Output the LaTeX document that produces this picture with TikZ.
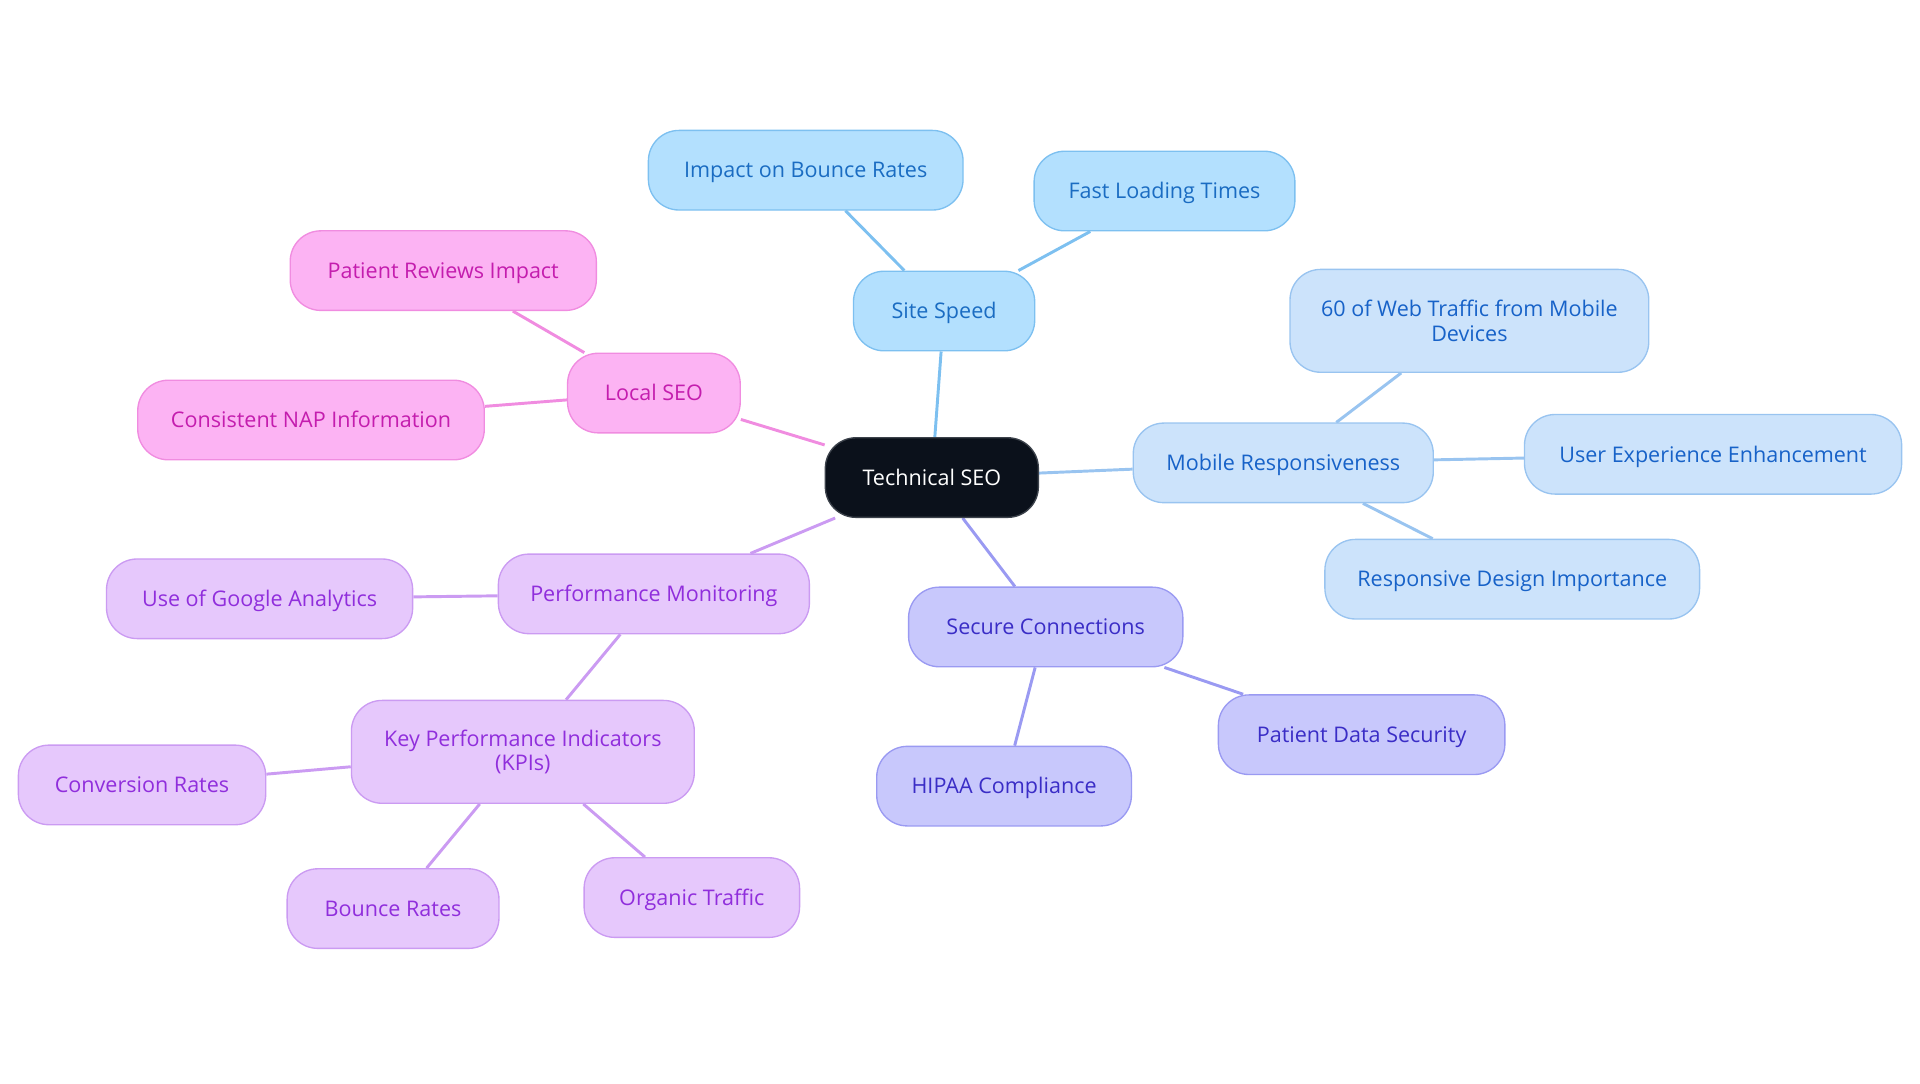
\documentclass[tikz,border=0pt]{standalone}
\usepackage{fontspec}
\setmainfont{Open Sans}
\usepackage{tikz}
\usetikzlibrary{backgrounds}

\definecolor{rootfill}{HTML}{0B111B}
\definecolor{rootline}{HTML}{3C424B}
\definecolor{speedfill}{HTML}{B3E0FE}
\definecolor{speedline}{HTML}{7DC0F0}
\definecolor{speedtext}{HTML}{1A6CC2}
\definecolor{mobfill}{HTML}{CCE3FB}
\definecolor{mobline}{HTML}{99C4F0}
\definecolor{mobtext}{HTML}{1762C8}
\definecolor{secfill}{HTML}{C8C8FC}
\definecolor{secline}{HTML}{9A9AF2}
\definecolor{sectext}{HTML}{3A2DC6}
\definecolor{perffill}{HTML}{E6C8FC}
\definecolor{perfline}{HTML}{CB9BF2}
\definecolor{perftext}{HTML}{902EDC}
\definecolor{localfill}{HTML}{FCB3F3}
\definecolor{localline}{HTML}{F08CE0}
\definecolor{localtext}{HTML}{C41DAE}

\tikzset{
  topic/.style={draw, line width=1.1pt, rounded corners=25pt, minimum height=65pt,
    inner xsep=8pt, inner ysep=22pt, align=center, text height=12.6pt, text depth=0pt,
    font=\fontsize{17.6}{20}\selectfont},
  twolines/.style={minimum height=84pt, text height={}, text depth={}},
  rootbox/.style={topic, fill=rootfill, draw=rootline, text=white},
  speedbox/.style={topic, fill=speedfill, draw=speedline, text=speedtext},
  mobbox/.style={topic, fill=mobfill, draw=mobline, text=mobtext},
  secbox/.style={topic, fill=secfill, draw=secline, text=sectext},
  perfbox/.style={topic, fill=perffill, draw=perfline, text=perftext},
  localbox/.style={topic, fill=localfill, draw=localline, text=localtext},
  link/.style={line width=2.4pt}
}

\begin{document}
\begin{tikzpicture}[x=1pt,y=-1pt]
		\useasboundingbox (0,0) rectangle (1568,884.5);
		% centre
		\node[rootbox, minimum width=174pt] (seo) at (761,390) {Technical SEO};
		% site speed
		\node[speedbox, minimum width=148pt] (speed) at (771,254) {Site Speed};
		\node[speedbox, minimum width=257pt] (bounce) at (658,139) {Impact on Bounce Rates};
		\node[speedbox, minimum width=213pt] (fast) at (951,156) {Fast Loading Times};
		% mobile
		\node[mobbox, minimum width=245pt] (mobile) at (1048,378) {Mobile Responsiveness};
		\node[mobbox, twolines, minimum width=293pt] (traffic) at (1200,262) {60 of Web Traffic from Mobile\\Devices};
		\node[mobbox, minimum width=308pt] (ux) at (1399,371) {User Experience Enhancement};
		\node[mobbox, minimum width=306pt] (design) at (1235,473) {Responsive Design Importance};
		% secure
		\node[secbox, minimum width=224pt] (secure) at (854,512) {Secure Connections};
		\node[secbox, minimum width=234pt] (data) at (1112,600) {Patient Data Security};
		\node[secbox, minimum width=208pt] (hipaa) at (820,642) {HIPAA Compliance};
		% performance
		\node[perfbox, minimum width=254pt] (perf) at (534,485) {Performance Monitoring};
		\node[perfbox, minimum width=250pt] (google) at (212,489) {Use of Google Analytics};
		\node[perfbox, twolines, minimum width=280pt] (kpi) at (427,614) {Key Performance Indicators\\(KPIs)};
		\node[perfbox, minimum width=202pt] (conv) at (116,641) {Conversion Rates};
		\node[perfbox, minimum width=173pt] (brates) at (321,742) {Bounce Rates};
		\node[perfbox, minimum width=176pt] (organic) at (565,733) {Organic Traffic};
		% local
		\node[localbox, minimum width=141pt] (local) at (534,321) {Local SEO};
		\node[localbox, minimum width=250pt] (reviews) at (362,221) {Patient Reviews Impact};
		\node[localbox, minimum width=283pt] (nap) at (254,343) {Consistent NAP Information};
		% links
		\begin{scope}[on background layer]
			\draw[link, speedline] (seo) -- (speed);
			\draw[link, speedline] (speed) -- (bounce);
			\draw[link, speedline] (speed) -- (fast);
			\draw[link, mobline] (seo) -- (mobile);
			\draw[link, mobline] (mobile) -- (traffic);
			\draw[link, mobline] (mobile) -- (ux);
			\draw[link, mobline] (mobile) -- (design);
			\draw[link, secline] (seo) -- (secure);
			\draw[link, secline] (secure) -- (data);
			\draw[link, secline] (secure) -- (hipaa);
			\draw[link, perfline] (seo) -- (perf);
			\draw[link, perfline] (perf) -- (google);
			\draw[link, perfline] (perf) -- (kpi);
			\draw[link, perfline] (kpi) -- (conv);
			\draw[link, perfline] (kpi) -- (brates);
			\draw[link, perfline] (kpi) -- (organic);
			\draw[link, localline] (seo) -- (local);
			\draw[link, localline] (local) -- (reviews);
			\draw[link, localline] (local) -- (nap);
		\end{scope}
	\end{tikzpicture}
\end{document}
